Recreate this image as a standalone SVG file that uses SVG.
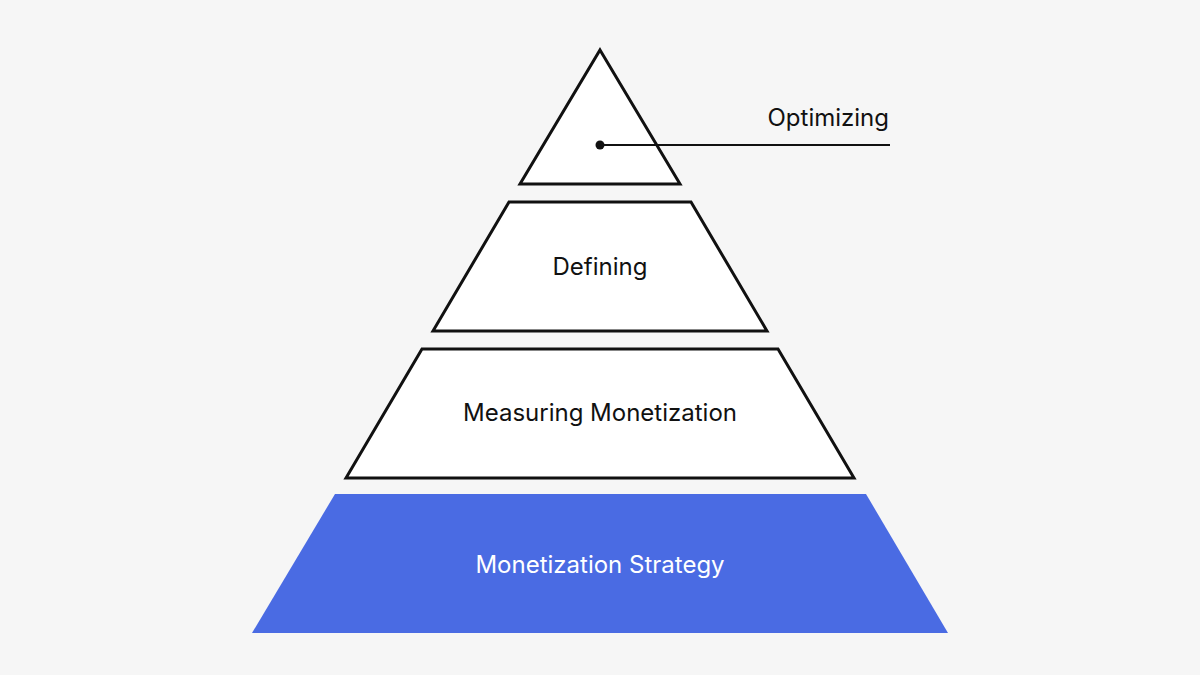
<svg xmlns="http://www.w3.org/2000/svg" width="1200" height="675" viewBox="0 0 1200 675">
<style>
.l{fill:#ffffff;stroke:#111;stroke-width:3;stroke-linejoin:miter}
.t{font-family:Inter,"Liberation Sans",sans-serif;font-size:24px;fill:#111;text-anchor:middle}
</style>
<rect width="1200" height="675" fill="#f6f6f6"/>
<g id="optimizing"><polygon class="l" points="600,50 680,184 520,184"/></g>
<g id="defining"><polygon class="l" points="509,202 691,202 767,331 433,331"/><text class="t" x="600" y="275">Defining</text></g>
<g id="measuring"><polygon class="l" points="422,349 778,349 854,478 346,478"/><text class="t" x="600" y="421">Measuring Monetization</text></g>
<g id="strategy"><polygon fill="#4a6be3" points="335,494 866,494 948,633 252,633"/><text class="t" x="600" y="573" style="fill:#fff">Monetization Strategy</text></g>
<g id="connectors"><circle cx="600" cy="145" r="4.5" fill="#111"/><line x1="600" y1="145" x2="890" y2="145" stroke="#111" stroke-width="2"/></g>
<g id="label"><text class="t" x="889" y="126" style="text-anchor:end">Optimizing</text></g>
</svg>
